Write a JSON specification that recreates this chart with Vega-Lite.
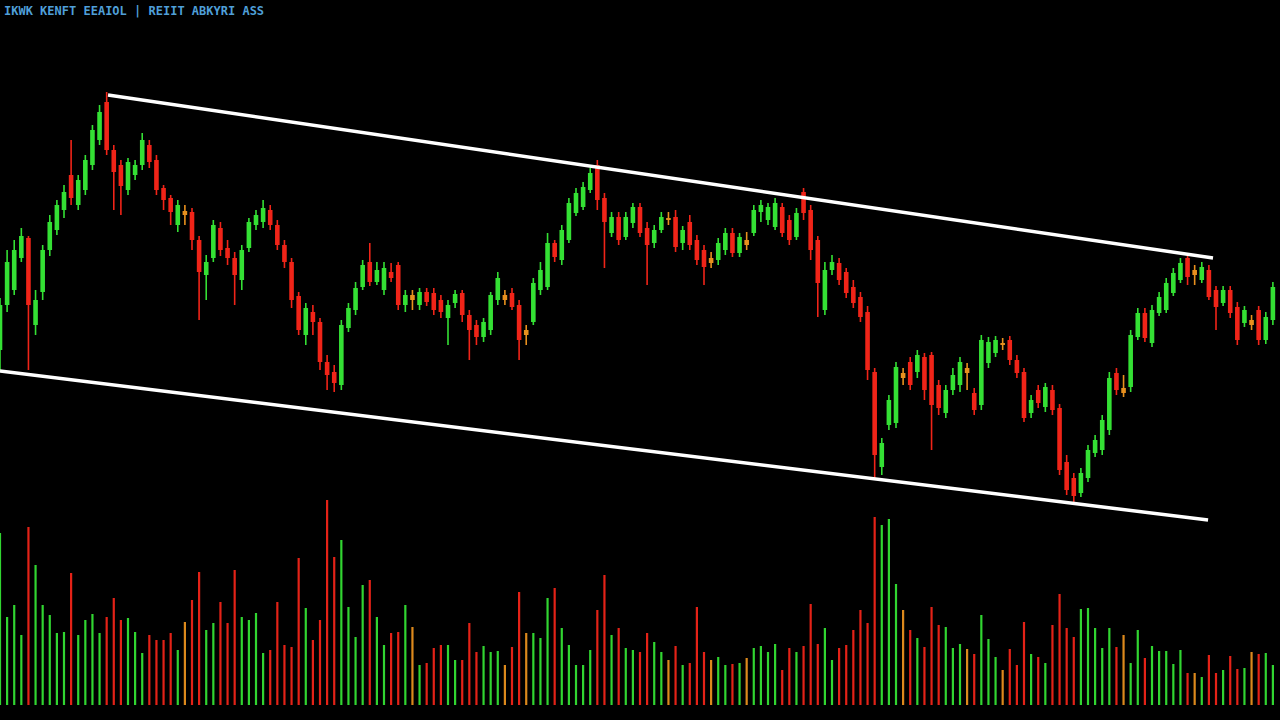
{
"$schema":"https://vega.github.io/schema/vega-lite/v6.json",
"autosize":{"type":"fit","contains":"padding"},
"width":1280,"height":720,"padding":0,
"background":"#000000",
"config":{"view":{"stroke":null}},
"title":{"text":"IKWK KENFT EEAIOL | REIIT ABKYRI ASS","anchor":"start","color":"#4f9fd8","font":"DejaVu Sans Mono","fontSize":12,"fontWeight":"bold","dx":4,"dy":18,"offset":0},
"datasets":{
"candles":[
{"t":0,"o":370,"h":422,"l":349,"c":415,"v":172},
{"t":1,"o":415,"h":470,"l":408,"c":458,"v":88},
{"t":2,"o":430,"h":480,"l":425,"c":470,"v":100},
{"t":3,"o":462,"h":492,"l":458,"c":484,"v":70},
{"t":4,"o":482,"h":484,"l":350,"c":415,"v":178},
{"t":5,"o":395,"h":430,"l":385,"c":420,"v":140},
{"t":6,"o":428,"h":475,"l":420,"c":470,"v":100},
{"t":7,"o":470,"h":505,"l":464,"c":498,"v":90},
{"t":8,"o":490,"h":520,"l":485,"c":515,"v":72},
{"t":9,"o":510,"h":535,"l":502,"c":528,"v":73},
{"t":10,"o":545,"h":580,"l":515,"c":522,"v":132},
{"t":11,"o":515,"h":545,"l":510,"c":540,"v":70},
{"t":12,"o":530,"h":565,"l":525,"c":560,"v":85},
{"t":13,"o":555,"h":595,"l":550,"c":590,"v":91},
{"t":14,"o":580,"h":615,"l":575,"c":608,"v":72},
{"t":15,"o":618,"h":628,"l":565,"c":570,"v":88},
{"t":16,"o":570,"h":575,"l":510,"c":548,"v":107},
{"t":17,"o":555,"h":560,"l":505,"c":534,"v":85},
{"t":18,"o":530,"h":562,"l":525,"c":558,"v":87},
{"t":19,"o":545,"h":560,"l":540,"c":555,"v":73},
{"t":20,"o":555,"h":587,"l":550,"c":580,"v":52},
{"t":21,"o":575,"h":580,"l":552,"c":558,"v":70},
{"t":22,"o":560,"h":565,"l":525,"c":530,"v":65},
{"t":23,"o":532,"h":535,"l":510,"c":520,"v":65},
{"t":24,"o":522,"h":525,"l":495,"c":508,"v":72},
{"t":25,"o":495,"h":520,"l":488,"c":515,"v":55},
{"t":26,"o":505,"h":515,"l":495,"c":509,"v":83},
{"t":27,"o":508,"h":512,"l":470,"c":480,"v":105},
{"t":28,"o":480,"h":484,"l":400,"c":448,"v":133},
{"t":29,"o":445,"h":465,"l":420,"c":458,"v":75},
{"t":30,"o":462,"h":500,"l":458,"c":495,"v":82},
{"t":31,"o":492,"h":498,"l":464,"c":470,"v":103},
{"t":32,"o":472,"h":480,"l":455,"c":462,"v":82},
{"t":33,"o":462,"h":468,"l":415,"c":445,"v":135},
{"t":34,"o":440,"h":475,"l":430,"c":470,"v":88},
{"t":35,"o":472,"h":502,"l":468,"c":498,"v":85},
{"t":36,"o":495,"h":510,"l":490,"c":505,"v":92},
{"t":37,"o":498,"h":520,"l":492,"c":512,"v":52},
{"t":38,"o":510,"h":515,"l":490,"c":495,"v":55},
{"t":39,"o":495,"h":500,"l":470,"c":475,"v":103},
{"t":40,"o":475,"h":480,"l":452,"c":458,"v":60},
{"t":41,"o":458,"h":462,"l":412,"c":420,"v":58},
{"t":42,"o":424,"h":428,"l":385,"c":390,"v":147},
{"t":43,"o":385,"h":417,"l":375,"c":412,"v":97},
{"t":44,"o":408,"h":415,"l":385,"c":398,"v":65},
{"t":45,"o":398,"h":402,"l":350,"c":358,"v":85},
{"t":46,"o":358,"h":365,"l":330,"c":345,"v":205},
{"t":47,"o":348,"h":355,"l":328,"c":337,"v":148},
{"t":48,"o":335,"h":400,"l":330,"c":395,"v":165},
{"t":49,"o":392,"h":417,"l":388,"c":412,"v":98},
{"t":50,"o":410,"h":438,"l":405,"c":432,"v":68},
{"t":51,"o":433,"h":460,"l":430,"c":455,"v":120},
{"t":52,"o":458,"h":477,"l":434,"c":438,"v":125},
{"t":53,"o":438,"h":458,"l":435,"c":450,"v":88},
{"t":54,"o":430,"h":458,"l":425,"c":452,"v":60},
{"t":55,"o":448,"h":457,"l":438,"c":442,"v":72},
{"t":56,"o":455,"h":458,"l":410,"c":415,"v":73},
{"t":57,"o":415,"h":430,"l":408,"c":425,"v":100},
{"t":58,"o":425,"h":430,"l":410,"c":420,"v":78},
{"t":59,"o":415,"h":432,"l":410,"c":428,"v":40},
{"t":60,"o":428,"h":432,"l":414,"c":418,"v":42},
{"t":61,"o":427,"h":432,"l":405,"c":410,"v":57},
{"t":62,"o":420,"h":425,"l":402,"c":408,"v":60},
{"t":63,"o":402,"h":420,"l":375,"c":415,"v":60},
{"t":64,"o":417,"h":430,"l":412,"c":426,"v":45},
{"t":65,"o":427,"h":430,"l":398,"c":405,"v":45},
{"t":66,"o":405,"h":410,"l":360,"c":390,"v":82},
{"t":67,"o":395,"h":400,"l":375,"c":383,"v":53},
{"t":68,"o":383,"h":402,"l":378,"c":398,"v":59},
{"t":69,"o":390,"h":428,"l":385,"c":425,"v":53},
{"t":70,"o":420,"h":448,"l":415,"c":442,"v":54},
{"t":71,"o":425,"h":430,"l":415,"c":420,"v":40},
{"t":72,"o":427,"h":432,"l":410,"c":413,"v":58},
{"t":73,"o":415,"h":420,"l":360,"c":380,"v":113},
{"t":74,"o":385,"h":395,"l":375,"c":390,"v":72},
{"t":75,"o":398,"h":442,"l":395,"c":437,"v":72},
{"t":76,"o":430,"h":458,"l":425,"c":450,"v":67},
{"t":77,"o":433,"h":487,"l":430,"c":477,"v":107},
{"t":78,"o":477,"h":480,"l":458,"c":463,"v":117},
{"t":79,"o":460,"h":495,"l":455,"c":490,"v":77},
{"t":80,"o":480,"h":522,"l":477,"c":517,"v":60},
{"t":81,"o":507,"h":532,"l":504,"c":527,"v":40},
{"t":82,"o":513,"h":538,"l":510,"c":533,"v":40},
{"t":83,"o":530,"h":552,"l":527,"c":547,"v":55},
{"t":84,"o":555,"h":560,"l":510,"c":520,"v":95},
{"t":85,"o":522,"h":527,"l":452,"c":498,"v":130},
{"t":86,"o":487,"h":508,"l":483,"c":503,"v":70},
{"t":87,"o":503,"h":508,"l":475,"c":480,"v":77},
{"t":88,"o":483,"h":508,"l":480,"c":503,"v":57},
{"t":89,"o":497,"h":517,"l":492,"c":513,"v":55},
{"t":90,"o":513,"h":517,"l":483,"c":487,"v":53},
{"t":91,"o":492,"h":498,"l":435,"c":475,"v":72},
{"t":92,"o":477,"h":495,"l":472,"c":490,"v":63},
{"t":93,"o":490,"h":508,"l":487,"c":503,"v":53},
{"t":94,"o":502,"h":508,"l":495,"c":500,"v":45},
{"t":95,"o":503,"h":510,"l":468,"c":473,"v":59},
{"t":96,"o":477,"h":494,"l":470,"c":490,"v":40},
{"t":97,"o":498,"h":505,"l":470,"c":475,"v":42},
{"t":98,"o":480,"h":485,"l":455,"c":460,"v":98},
{"t":99,"o":470,"h":475,"l":435,"c":453,"v":53},
{"t":100,"o":457,"h":468,"l":452,"c":462,"v":45},
{"t":101,"o":460,"h":482,"l":455,"c":477,"v":48},
{"t":102,"o":470,"h":492,"l":465,"c":487,"v":40},
{"t":103,"o":487,"h":492,"l":463,"c":467,"v":41},
{"t":104,"o":467,"h":487,"l":463,"c":483,"v":42},
{"t":105,"o":475,"h":488,"l":470,"c":480,"v":47},
{"t":106,"o":487,"h":515,"l":484,"c":510,"v":57},
{"t":107,"o":508,"h":520,"l":498,"c":515,"v":59},
{"t":108,"o":500,"h":517,"l":495,"c":513,"v":53},
{"t":109,"o":493,"h":522,"l":490,"c":517,"v":61},
{"t":110,"o":513,"h":517,"l":483,"c":487,"v":35},
{"t":111,"o":500,"h":505,"l":475,"c":480,"v":57},
{"t":112,"o":483,"h":512,"l":480,"c":507,"v":53},
{"t":113,"o":528,"h":532,"l":500,"c":507,"v":59},
{"t":114,"o":510,"h":515,"l":460,"c":470,"v":101},
{"t":115,"o":480,"h":484,"l":403,"c":437,"v":61},
{"t":116,"o":410,"h":458,"l":405,"c":450,"v":77},
{"t":117,"o":450,"h":465,"l":445,"c":458,"v":45},
{"t":118,"o":457,"h":462,"l":435,"c":440,"v":57},
{"t":119,"o":448,"h":452,"l":422,"c":427,"v":60},
{"t":120,"o":433,"h":440,"l":412,"c":417,"v":75},
{"t":121,"o":423,"h":428,"l":398,"c":403,"v":95},
{"t":122,"o":408,"h":414,"l":340,"c":350,"v":82},
{"t":123,"o":348,"h":352,"l":242,"c":265,"v":188},
{"t":124,"o":253,"h":282,"l":245,"c":277,"v":180},
{"t":125,"o":295,"h":325,"l":290,"c":320,"v":186},
{"t":126,"o":297,"h":358,"l":292,"c":353,"v":121},
{"t":127,"o":347,"h":352,"l":335,"c":342,"v":95},
{"t":128,"o":358,"h":363,"l":330,"c":335,"v":75},
{"t":129,"o":348,"h":370,"l":342,"c":365,"v":67},
{"t":130,"o":363,"h":367,"l":320,"c":330,"v":58},
{"t":131,"o":365,"h":368,"l":270,"c":315,"v":98},
{"t":132,"o":335,"h":340,"l":305,"c":312,"v":80},
{"t":133,"o":307,"h":335,"l":302,"c":330,"v":78},
{"t":134,"o":330,"h":352,"l":325,"c":345,"v":57},
{"t":135,"o":335,"h":363,"l":328,"c":358,"v":61},
{"t":136,"o":352,"h":357,"l":330,"c":347,"v":56},
{"t":137,"o":327,"h":332,"l":305,"c":310,"v":51},
{"t":138,"o":315,"h":385,"l":310,"c":380,"v":90},
{"t":139,"o":357,"h":383,"l":352,"c":378,"v":66},
{"t":140,"o":367,"h":384,"l":363,"c":380,"v":48},
{"t":141,"o":375,"h":382,"l":370,"c":377,"v":35},
{"t":142,"o":380,"h":384,"l":355,"c":360,"v":56},
{"t":143,"o":360,"h":365,"l":342,"c":347,"v":40},
{"t":144,"o":348,"h":352,"l":298,"c":302,"v":83},
{"t":145,"o":307,"h":325,"l":302,"c":320,"v":51},
{"t":146,"o":330,"h":335,"l":312,"c":317,"v":48},
{"t":147,"o":313,"h":337,"l":308,"c":333,"v":42},
{"t":148,"o":330,"h":335,"l":305,"c":310,"v":80},
{"t":149,"o":312,"h":316,"l":245,"c":250,"v":111},
{"t":150,"o":258,"h":265,"l":225,"c":230,"v":77},
{"t":151,"o":242,"h":247,"l":218,"c":224,"v":68},
{"t":152,"o":227,"h":252,"l":223,"c":247,"v":96},
{"t":153,"o":242,"h":275,"l":238,"c":270,"v":97},
{"t":154,"o":267,"h":285,"l":263,"c":280,"v":77},
{"t":155,"o":270,"h":305,"l":265,"c":300,"v":57},
{"t":156,"o":290,"h":348,"l":285,"c":342,"v":77},
{"t":157,"o":347,"h":352,"l":325,"c":330,"v":58},
{"t":158,"o":327,"h":345,"l":323,"c":332,"v":70},
{"t":159,"o":333,"h":390,"l":328,"c":385,"v":42},
{"t":160,"o":383,"h":412,"l":380,"c":407,"v":75},
{"t":161,"o":407,"h":412,"l":378,"c":382,"v":47},
{"t":162,"o":377,"h":415,"l":373,"c":410,"v":59},
{"t":163,"o":407,"h":428,"l":404,"c":423,"v":54},
{"t":164,"o":410,"h":442,"l":407,"c":437,"v":54},
{"t":165,"o":427,"h":452,"l":424,"c":447,"v":41},
{"t":166,"o":440,"h":462,"l":437,"c":457,"v":55},
{"t":167,"o":462,"h":465,"l":435,"c":443,"v":32},
{"t":168,"o":450,"h":455,"l":435,"c":445,"v":32},
{"t":169,"o":440,"h":458,"l":437,"c":453,"v":28},
{"t":170,"o":450,"h":455,"l":420,"c":423,"v":50},
{"t":171,"o":430,"h":434,"l":390,"c":413,"v":32},
{"t":172,"o":417,"h":434,"l":414,"c":430,"v":35},
{"t":173,"o":430,"h":434,"l":402,"c":407,"v":49},
{"t":174,"o":413,"h":418,"l":375,"c":380,"v":36},
{"t":175,"o":397,"h":414,"l":393,"c":410,"v":37},
{"t":176,"o":400,"h":405,"l":390,"c":395,"v":53},
{"t":177,"o":410,"h":414,"l":375,"c":380,"v":51},
{"t":178,"o":380,"h":408,"l":376,"c":403,"v":52},
{"t":179,"o":400,"h":438,"l":395,"c":433,"v":40}
],
"trend":[
{"line":"upper","t":15.19,"p":625},
{"line":"upper","t":170.58,"p":462},
{"line":"lower","t":0,"p":349},
{"line":"lower","t":169.88,"p":200}
]
},
"layer":[
{"data":{"name":"candles"},
 "mark":{"type":"bar","size":2.2,"clip":true,"opacity":0.95},
 "encoding":{
  "x":{"field":"t","type":"quantitative","scale":{"domain":[0,180],"nice":false,"zero":false,"padding":0},"axis":null},
  "y":{"field":"v","type":"quantitative","scale":{"domain":[-15,705],"nice":false,"zero":false},"axis":null},
  "y2":{"datum":0},
  "color":{"condition":[{"test":"abs(datum.c - datum.o) <= 5","value":"#e8901e"},{"test":"datum.c > datum.o","value":"#34e034"}],"value":"#f02418"}
 }},
{"data":{"name":"candles"},
 "mark":{"type":"rule","strokeWidth":1.6,"clip":true},
 "encoding":{
  "x":{"field":"t","type":"quantitative","scale":{"domain":[0,180],"nice":false,"zero":false,"padding":0},"axis":null},
  "y":{"field":"l","type":"quantitative","scale":{"domain":[0,720],"nice":false,"zero":false},"axis":null},
  "y2":{"field":"h"},
  "color":{"condition":[{"test":"abs(datum.c - datum.o) <= 5","value":"#e8901e"},{"test":"datum.c > datum.o","value":"#34e034"}],"value":"#f02418"}
 }},
{"data":{"name":"candles"},
 "mark":{"type":"bar","size":4.6,"clip":true},
 "encoding":{
  "x":{"field":"t","type":"quantitative","scale":{"domain":[0,180],"nice":false,"zero":false,"padding":0},"axis":null},
  "y":{"field":"o","type":"quantitative","scale":{"domain":[0,720],"nice":false,"zero":false},"axis":null},
  "y2":{"field":"c"},
  "color":{"condition":[{"test":"abs(datum.c - datum.o) <= 5","value":"#e8901e"},{"test":"datum.c > datum.o","value":"#34e034"}],"value":"#f02418"}
 }},
{"data":{"name":"trend"},
 "mark":{"type":"line","color":"#ffffff","strokeWidth":3.5,"strokeCap":"butt","clip":true},
 "encoding":{
  "x":{"field":"t","type":"quantitative","scale":{"domain":[0,180],"nice":false,"zero":false,"padding":0},"axis":null},
  "y":{"field":"p","type":"quantitative","scale":{"domain":[0,720],"nice":false,"zero":false},"axis":null},
  "detail":{"field":"line"}
 }}
],
"resolve":{"scale":{"y":"independent"}}
}
